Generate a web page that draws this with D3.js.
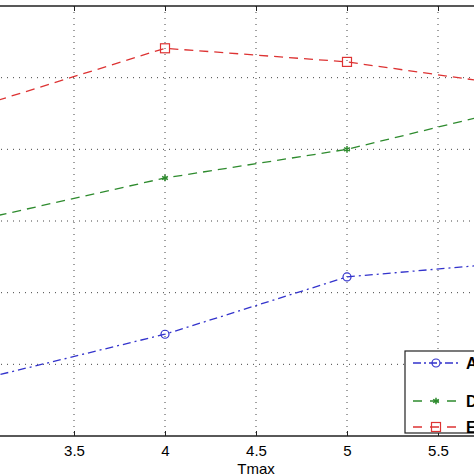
<!DOCTYPE html>
<html><head><meta charset="utf-8">
<script src="https://cdn.jsdelivr.net/npm/d3@7"></script>
<style>body{margin:0;background:#fff}text{font-family:"Liberation Sans",Arial,sans-serif}</style>
</head><body><svg id="c" width="474" height="474"></svg>
<script>
// values (y units arbitrary, grid every 1)
var tmax = [3, 4, 5, 6];
var seriesA = [0.80, 1.42, 2.22, 2.44];
var seriesD = [3.03, 3.60, 4.00, 4.62];
var seriesE = [4.62, 5.41, 5.22, 4.86];
var xTicks = [3.5, 4, 4.5, 5, 5.5];
var legendNames = ['A', 'D', 'E'];

var svg = d3.select('#c');
var x = d3.scaleLinear().domain([3, 6]).range([-17, 529]);
var y = d3.scaleLinear().domain([0, 6]).range([436, 6]);

// grid
var gx = [3, 3.5, 4, 4.5, 5, 5.5, 6], gy = [1, 2, 3, 4, 5];
svg.selectAll('.vg').data(gx).enter().append('line')
  .attr('x1', d => x(d)).attr('x2', d => x(d)).attr('y1', y(6)).attr('y2', y(0))
  .attr('stroke', '#444').attr('stroke-width', 1).attr('stroke-dasharray', '1,5');
svg.selectAll('.hg').data(gy).enter().append('line')
  .attr('x1', x(3)).attr('x2', x(6)).attr('y1', d => y(d)).attr('y2', d => y(d))
  .attr('stroke', '#444').attr('stroke-width', 1).attr('stroke-dasharray', '1,5');

// frame
svg.append('rect').attr('x', x(3)).attr('y', y(6)).attr('width', x(6) - x(3)).attr('height', y(0) - y(6))
  .attr('fill', 'none').attr('stroke', '#222').attr('stroke-width', 1.5);

var bottomAxis = svg.append('g').attr('transform', 'translate(0,' + y(0) + ')')
  .call(d3.axisBottom(x).tickValues(xTicks).tickFormat(d3.format('')).tickSizeInner(-5).tickSizeOuter(0).tickPadding(9));
bottomAxis.select('.domain').remove();
bottomAxis.selectAll('text').attr('font-size', 15).attr('fill', '#000');
bottomAxis.selectAll('line').attr('stroke', '#222');
var topAxis = svg.append('g').attr('transform', 'translate(0,' + y(6) + ')')
  .call(d3.axisTop(x).tickValues(xTicks).tickFormat('').tickSizeInner(-5).tickSizeOuter(0));
topAxis.select('.domain').remove();
topAxis.selectAll('line').attr('stroke', '#222');

svg.append('text').attr('x', x(4.5)).attr('y', 474).attr('text-anchor', 'middle')
  .attr('font-size', 15).text('Tmax');

var series = [
  {v: seriesA, c: '#3333cc', dash: '8,4,2,4', m: 'o'},
  {v: seriesD, c: '#2e8b2e', dash: '9,6', m: '*'},
  {v: seriesE, c: '#dd3333', dash: '9,6', m: 's'}
];
var line = d3.line().x((d, i) => x(tmax[i])).y(d => y(d));

function marker(g, m, c, cx, cy) {
  if (m === 'o') g.append('circle').attr('cx', cx).attr('cy', cy).attr('r', 4).attr('fill', 'none').attr('stroke', c).attr('stroke-width', 1.2);
  else if (m === 's') g.append('rect').attr('x', cx - 4.5).attr('y', cy - 4.5).attr('width', 9).attr('height', 9).attr('fill', 'none').attr('stroke', c).attr('stroke-width', 1.2);
  else g.append('path').attr('d', d3.symbol(d3.symbolAsterisk || d3.symbolCross, 30)()).attr('transform', 'translate(' + cx + ',' + cy + ')')
    .attr('fill', c).attr('stroke', c).attr('stroke-width', 1.5);
}

series.forEach(function (s) {
  svg.append('path').datum(s.v).attr('d', line).attr('fill', 'none')
    .attr('stroke', s.c).attr('stroke-width', 1.3).attr('stroke-dasharray', s.dash);
  var g = svg.append('g');
  s.v.forEach(function (d, i) { marker(g, s.m, s.c, x(tmax[i]), y(d)); });
});

// legend
var lg = svg.append('g');
lg.append('rect').attr('x', 405).attr('y', 351).attr('width', 90).attr('height', 82)
  .attr('fill', '#fff').attr('stroke', '#222').attr('stroke-width', 1.2);
[363, 401, 427].forEach(function (ly, i) {
  var s = series[i];
  lg.append('line').attr('x1', 413).attr('x2', 458).attr('y1', ly).attr('y2', ly)
    .attr('stroke', s.c).attr('stroke-width', 1.3).attr('stroke-dasharray', i === 0 ? '8,3,2,3' : '9,8');
  marker(lg, s.m, s.c, 436, ly);
  lg.append('text').attr('x', 466).attr('y', ly + 6).attr('font-size', 16).attr('font-weight', 'bold').text(legendNames[i]);
});
</script></body></html>
